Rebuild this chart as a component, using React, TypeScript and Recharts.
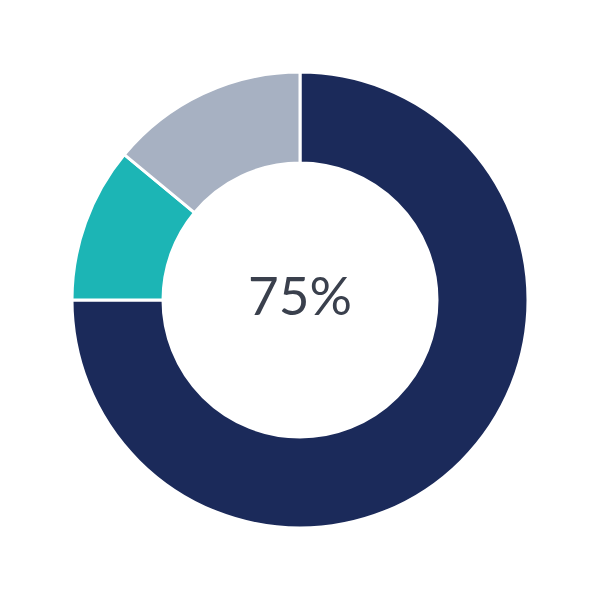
import React from 'react';
import { PieChart, Pie, Cell } from 'recharts';

const names = ['Complete', 'In progress', 'Not started'];
const values = [75, 11, 14];
const colors = ['#1b2a5a', '#1cb5b5', '#a7b1c2'];
const centerLabel = '75%';

const data = names.map((name, i) => ({ name, value: values[i] }));

const App: React.FC = () => {
  return (
    <div style={{ position: 'absolute', left: 0, top: 0, width: 600, height: 600, background: '#fff' }}>
      <PieChart width={600} height={600} margin={{ top: 0, right: 0, bottom: 0, left: 0 }}>
        <Pie
          data={data}
          dataKey="value"
          cx={300}
          cy={300}
          innerRadius={137}
          outerRadius={228}
          startAngle={90}
          endAngle={-270}
          stroke="#fff"
          strokeWidth={3}
          isAnimationActive={false}
        >
          {data.map((d, i) => <Cell key={d.name} fill={colors[i]} />)}
        </Pie>
        <text x={300} y={294} textAnchor="middle" dominantBaseline="central"
          style={{ fontFamily: 'Lato', fontSize: 53, fill: '#3a404d' }}>
          {centerLabel}
        </text>
      </PieChart>
    </div>
  );
};

export default App;
